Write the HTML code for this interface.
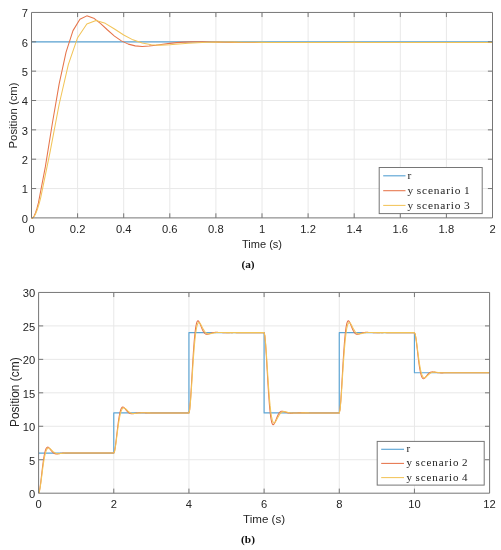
<!DOCTYPE html>
<html><head><meta charset="utf-8"><title>Position response plots</title>
<style>
html,body{margin:0;padding:0;background:#fff;}
body{width:501px;height:550px;overflow:hidden;}
svg{display:block;font-family:"Liberation Sans",Arial,sans-serif;}
.t{stroke:#262626;stroke-width:0.0px;}
.s{stroke:#1a1a1a;stroke-width:0.0px;}
</style></head><body>
<svg width="501" height="550" viewBox="0 0 501 550">
<rect width="501" height="550" fill="#fff"/>
<path d="M77.60 217.90V12.45M123.70 217.90V12.45M169.80 217.90V12.45M215.90 217.90V12.45M262.00 217.90V12.45M308.10 217.90V12.45M354.20 217.90V12.45M400.30 217.90V12.45M446.40 217.90V12.45M31.50 188.55H492.50M31.50 159.20H492.50M31.50 129.85H492.50M31.50 100.50H492.50M31.50 71.15H492.50M31.50 41.80H492.50" stroke="#e8e8e8" stroke-width="1" fill="none"/>
<polyline points="31.50,41.80 492.50,41.80" stroke="#5ca5d5" stroke-width="1.15" fill="none" stroke-linejoin="round"/>
<polyline points="31.50,218.50 32.88,217.79 34.27,215.74 35.65,212.49 37.03,208.17 38.41,202.92 45.33,166.89 52.25,124.01 59.16,83.88 66.07,52.06 72.99,30.62 79.91,19.19 86.82,15.86 93.74,18.14 100.65,23.54 107.56,30.00 114.48,36.06 121.39,40.88 128.31,44.13 135.22,45.88 142.14,46.40 149.06,46.07 155.97,45.26 162.89,44.29 169.80,43.37 176.72,42.64 183.63,42.14 190.54,41.88 197.46,41.80 204.38,41.85 211.29,41.97 218.21,42.11 225.12,42.25 232.03,42.36 238.95,42.44 245.86,42.48 252.78,42.49 259.69,42.48 266.61,42.47" stroke="#e6744a" stroke-width="1.05" fill="none" stroke-linejoin="round"/>
<polyline points="31.50,218.50 33.34,217.51 35.19,214.69 37.03,210.28 38.88,204.52 40.72,197.61 49.94,152.68 59.16,104.25 68.38,64.33 77.60,37.69 86.82,24.08 96.04,20.57 105.26,23.34 114.48,28.97 123.70,34.96 132.92,39.85 142.14,43.08 151.36,44.71 160.58,45.11 169.80,44.74 179.02,44.03 188.24,43.29 197.46,42.70 206.68,42.30 215.90,42.11 225.12,42.06 234.34,42.11 243.56,42.20 252.78,42.29 262.00,42.37 271.22,42.41 280.44,42.44 289.66,42.44 298.88,42.44 308.10,42.42 317.32,42.41 326.54,42.40 335.76,42.40 344.98,42.40 354.20,42.39 363.42,42.40 372.64,42.40 381.86,42.40 391.08,42.40 400.30,42.40 409.52,42.40 418.74,42.40 427.96,42.40 437.18,42.40 446.40,42.40 455.62,42.40 464.84,42.40 474.06,42.40 483.28,42.40 492.50,42.40" stroke="#f2c458" stroke-width="1.05" fill="none" stroke-linejoin="round"/>
<path d="M31.50 12.45H492.50V217.90H31.50ZM77.60 217.90v-4.6M77.60 12.45v4.6M123.70 217.90v-4.6M123.70 12.45v4.6M169.80 217.90v-4.6M169.80 12.45v4.6M215.90 217.90v-4.6M215.90 12.45v4.6M262.00 217.90v-4.6M262.00 12.45v4.6M308.10 217.90v-4.6M308.10 12.45v4.6M354.20 217.90v-4.6M354.20 12.45v4.6M400.30 217.90v-4.6M400.30 12.45v4.6M446.40 217.90v-4.6M446.40 12.45v4.6M31.50 188.55h4.6M492.50 188.55h-4.6M31.50 159.20h4.6M492.50 159.20h-4.6M31.50 129.85h4.6M492.50 129.85h-4.6M31.50 100.50h4.6M492.50 100.50h-4.6M31.50 71.15h4.6M492.50 71.15h-4.6M31.50 41.80h4.6M492.50 41.80h-4.6" stroke="#767676" stroke-width="1" fill="none"/>
<g class="t" font-size="11.2" fill="#262626"><text x="31.50" y="233.20" text-anchor="middle">0</text><text x="77.60" y="233.20" text-anchor="middle">0.2</text><text x="123.70" y="233.20" text-anchor="middle">0.4</text><text x="169.80" y="233.20" text-anchor="middle">0.6</text><text x="215.90" y="233.20" text-anchor="middle">0.8</text><text x="262.00" y="233.20" text-anchor="middle">1</text><text x="308.10" y="233.20" text-anchor="middle">1.2</text><text x="354.20" y="233.20" text-anchor="middle">1.4</text><text x="400.30" y="233.20" text-anchor="middle">1.6</text><text x="446.40" y="233.20" text-anchor="middle">1.8</text><text x="492.50" y="233.20" text-anchor="middle">2</text><text x="28.10" y="222.70" text-anchor="end">0</text><text x="28.10" y="193.35" text-anchor="end">1</text><text x="28.10" y="164.00" text-anchor="end">2</text><text x="28.10" y="134.65" text-anchor="end">3</text><text x="28.10" y="105.30" text-anchor="end">4</text><text x="28.10" y="75.95" text-anchor="end">5</text><text x="28.10" y="46.60" text-anchor="end">6</text><text x="28.10" y="17.25" text-anchor="end">7</text></g>
<text x="262.00" y="247.8" text-anchor="middle" class="t" font-size="11.05" fill="#262626">Time (s)</text>
<text transform="translate(17.0 115.47) rotate(-90)" text-anchor="middle" class="t" font-size="11.3" fill="#262626">Position (cm)</text>
<rect x="379.2" y="167.5" width="103.0" height="46.099999999999994" fill="#fff" stroke="#767676" stroke-width="1"/>
<path d="M383.2 175.8H405.5" stroke="#5ca5d5" stroke-width="1.15"/>
<text x="407.6" y="179.20" font-family="Liberation Serif, serif" class="s" font-size="11.4" word-spacing="-0.9" letter-spacing="0.8" fill="#1a1a1a">r</text>
<path d="M383.2 190.7H405.5" stroke="#e6744a" stroke-width="1.05"/>
<text x="407.6" y="194.10" font-family="Liberation Serif, serif" class="s" font-size="11.4" word-spacing="-0.9" letter-spacing="0.8" fill="#1a1a1a">y scenario 1</text>
<path d="M383.2 205.4H405.5" stroke="#f2c458" stroke-width="1.05"/>
<text x="407.6" y="208.80" font-family="Liberation Serif, serif" class="s" font-size="11.4" word-spacing="-0.9" letter-spacing="0.8" fill="#1a1a1a">y scenario 3</text>
<text x="248" y="268" text-anchor="middle" font-family="Liberation Serif, serif" font-weight="bold" font-size="11.3" fill="#111">(a)</text>
<path d="M113.77 493.20V292.45M188.93 493.20V292.45M264.10 493.20V292.45M339.27 493.20V292.45M414.43 493.20V292.45M38.60 459.74H489.60M38.60 426.28H489.60M38.60 392.82H489.60M38.60 359.37H489.60M38.60 325.91H489.60" stroke="#e8e8e8" stroke-width="1" fill="none"/>
<polyline points="38.60,453.05 113.77,453.05 113.77,412.90 188.93,412.90 188.93,332.60 264.10,332.60 264.10,412.90 339.27,412.90 339.27,332.60 414.43,332.60 414.43,372.75 489.60,372.75" stroke="#5ca5d5" stroke-width="1.15" fill="none" stroke-linejoin="round"/>
<polyline points="38.60,493.20 39.35,491.52 40.10,487.23 40.86,481.40 41.61,474.89 42.36,468.43 43.11,462.50 43.86,457.43 44.61,453.40 45.37,450.44 46.12,448.49 46.87,447.44 47.62,447.12 48.37,447.36 49.12,447.99 49.88,448.85 50.63,449.80 51.38,450.76 52.13,451.64 52.88,452.39 53.63,452.99 54.38,453.43 55.14,453.72 55.89,453.88 56.64,453.93 57.39,453.89 58.14,453.80 58.90,453.67 59.65,453.53 60.40,453.39 61.15,453.26 61.90,453.15 62.65,453.06 63.41,453.00 64.16,452.95 64.91,452.93 65.66,452.92 66.41,452.93 67.16,452.94 67.92,452.96 68.67,452.98 69.42,453.00 70.17,453.02 70.92,453.04 71.67,453.05 72.42,453.06 73.18,453.06 73.93,453.07 74.68,453.07 75.43,453.07 76.18,453.07 76.94,453.06 77.69,453.06 78.44,453.06 79.19,453.05 79.94,453.05 80.69,453.05 81.45,453.05 82.20,453.05 82.95,453.05 83.70,453.05 84.45,453.05 85.20,453.05 85.95,453.05 86.71,453.05 87.46,453.05 88.21,453.05 88.96,453.05 89.71,453.05 90.47,453.05 91.22,453.05 91.97,453.05 92.72,453.05 93.47,453.05 94.22,453.05 94.97,453.05 95.73,453.05 96.48,453.05 97.23,453.05 97.98,453.05 98.73,453.05 99.49,453.05 100.24,453.05 100.99,453.05 101.74,453.05 102.49,453.05 103.24,453.05 104.00,453.05 104.75,453.05 105.50,453.05 106.25,453.05 107.00,453.05 107.75,453.05 108.50,453.05 109.26,453.05 110.01,453.05 110.76,453.05 111.51,453.05 112.26,453.05 113.02,453.05 113.77,453.05 114.52,451.37 115.27,447.08 116.02,441.25 116.77,434.74 117.53,428.28 118.28,422.35 119.03,417.28 119.78,413.25 120.53,410.29 121.28,408.34 122.04,407.29 122.79,406.97 123.54,407.21 124.29,407.84 125.04,408.70 125.79,409.65 126.54,410.61 127.30,411.49 128.05,412.24 128.80,412.84 129.55,413.28 130.30,413.57 131.06,413.73 131.81,413.78 132.56,413.74 133.31,413.65 134.06,413.52 134.81,413.38 135.56,413.24 136.32,413.11 137.07,413.00 137.82,412.91 138.57,412.85 139.32,412.80 140.08,412.78 140.83,412.77 141.58,412.78 142.33,412.79 143.08,412.81 143.83,412.83 144.59,412.85 145.34,412.87 146.09,412.89 146.84,412.90 147.59,412.91 148.34,412.91 149.09,412.92 149.85,412.92 150.60,412.92 151.35,412.92 152.10,412.91 152.85,412.91 153.60,412.91 154.36,412.90 155.11,412.90 155.86,412.90 156.61,412.90 157.36,412.90 158.12,412.90 158.87,412.90 159.62,412.90 160.37,412.90 161.12,412.90 161.87,412.90 162.62,412.90 163.38,412.90 164.13,412.90 164.88,412.90 165.63,412.90 166.38,412.90 167.13,412.90 167.89,412.90 168.64,412.90 169.39,412.90 170.14,412.90 170.89,412.90 171.64,412.90 172.40,412.90 173.15,412.90 173.90,412.90 174.65,412.90 175.40,412.90 176.16,412.90 176.91,412.90 177.66,412.90 178.41,412.90 179.16,412.90 179.91,412.90 180.66,412.90 181.42,412.90 182.17,412.90 182.92,412.90 183.67,412.90 184.42,412.90 185.18,412.90 185.93,412.90 186.68,412.90 187.43,412.90 188.18,412.90 188.93,412.90 189.69,409.54 190.44,400.97 191.19,389.29 191.94,376.29 192.69,363.35 193.44,351.50 194.19,341.37 194.95,333.30 195.70,327.38 196.45,323.49 197.20,321.38 197.95,320.74 198.70,321.22 199.46,322.47 200.21,324.19 200.96,326.11 201.71,328.02 202.46,329.78 203.22,331.28 203.97,332.48 204.72,333.36 205.47,333.94 206.22,334.25 206.97,334.35 207.72,334.28 208.48,334.10 209.23,333.85 209.98,333.56 210.73,333.28 211.48,333.02 212.23,332.80 212.99,332.62 213.74,332.49 214.49,332.40 215.24,332.36 215.99,332.34 216.75,332.35 217.50,332.38 218.25,332.41 219.00,332.46 219.75,332.50 220.50,332.54 221.25,332.57 222.01,332.60 222.76,332.62 223.51,332.63 224.26,332.64 225.01,332.64 225.77,332.64 226.52,332.63 227.27,332.63 228.02,332.62 228.77,332.62 229.52,332.61 230.28,332.60 231.03,332.60 231.78,332.60 232.53,332.60 233.28,332.59 234.03,332.59 234.78,332.59 235.54,332.60 236.29,332.60 237.04,332.60 237.79,332.60 238.54,332.60 239.29,332.60 240.05,332.60 240.80,332.60 241.55,332.60 242.30,332.60 243.05,332.60 243.81,332.60 244.56,332.60 245.31,332.60 246.06,332.60 246.81,332.60 247.56,332.60 248.31,332.60 249.07,332.60 249.82,332.60 250.57,332.60 251.32,332.60 252.07,332.60 252.83,332.60 253.58,332.60 254.33,332.60 255.08,332.60 255.83,332.60 256.58,332.60 257.34,332.60 258.09,332.60 258.84,332.60 259.59,332.60 260.34,332.60 261.09,332.60 261.85,332.60 262.60,332.60 263.35,332.60 264.10,332.60 264.85,335.96 265.60,344.53 266.36,356.21 267.11,369.21 267.86,382.15 268.61,394.00 269.36,404.13 270.11,412.20 270.87,418.12 271.62,422.01 272.37,424.12 273.12,424.76 273.87,424.28 274.62,423.03 275.38,421.31 276.13,419.39 276.88,417.48 277.63,415.72 278.38,414.22 279.13,413.02 279.89,412.14 280.64,411.56 281.39,411.25 282.14,411.15 282.89,411.22 283.64,411.40 284.40,411.65 285.15,411.94 285.90,412.22 286.65,412.48 287.40,412.70 288.15,412.88 288.91,413.01 289.66,413.10 290.41,413.14 291.16,413.16 291.91,413.15 292.66,413.12 293.42,413.09 294.17,413.04 294.92,413.00 295.67,412.96 296.42,412.93 297.17,412.90 297.93,412.88 298.68,412.87 299.43,412.86 300.18,412.86 300.93,412.86 301.68,412.87 302.44,412.87 303.19,412.88 303.94,412.88 304.69,412.89 305.44,412.90 306.19,412.90 306.95,412.90 307.70,412.90 308.45,412.91 309.20,412.91 309.95,412.91 310.70,412.90 311.46,412.90 312.21,412.90 312.96,412.90 313.71,412.90 314.46,412.90 315.21,412.90 315.97,412.90 316.72,412.90 317.47,412.90 318.22,412.90 318.97,412.90 319.72,412.90 320.48,412.90 321.23,412.90 321.98,412.90 322.73,412.90 323.48,412.90 324.23,412.90 324.99,412.90 325.74,412.90 326.49,412.90 327.24,412.90 327.99,412.90 328.74,412.90 329.50,412.90 330.25,412.90 331.00,412.90 331.75,412.90 332.50,412.90 333.25,412.90 334.01,412.90 334.76,412.90 335.51,412.90 336.26,412.90 337.01,412.90 337.76,412.90 338.52,412.90 339.27,412.90 340.02,409.54 340.77,400.97 341.52,389.29 342.27,376.29 343.02,363.35 343.78,351.50 344.53,341.37 345.28,333.30 346.03,327.38 346.78,323.49 347.54,321.38 348.29,320.74 349.04,321.22 349.79,322.47 350.54,324.19 351.29,326.11 352.05,328.02 352.80,329.78 353.55,331.28 354.30,332.48 355.05,333.36 355.80,333.94 356.56,334.25 357.31,334.35 358.06,334.28 358.81,334.10 359.56,333.85 360.31,333.56 361.06,333.28 361.82,333.02 362.57,332.80 363.32,332.62 364.07,332.49 364.82,332.40 365.58,332.36 366.33,332.34 367.08,332.35 367.83,332.38 368.58,332.41 369.33,332.46 370.09,332.50 370.84,332.54 371.59,332.57 372.34,332.60 373.09,332.62 373.84,332.63 374.60,332.64 375.35,332.64 376.10,332.64 376.85,332.63 377.60,332.63 378.35,332.62 379.11,332.62 379.86,332.61 380.61,332.60 381.36,332.60 382.11,332.60 382.86,332.60 383.62,332.59 384.37,332.59 385.12,332.59 385.87,332.60 386.62,332.60 387.37,332.60 388.13,332.60 388.88,332.60 389.63,332.60 390.38,332.60 391.13,332.60 391.88,332.60 392.64,332.60 393.39,332.60 394.14,332.60 394.89,332.60 395.64,332.60 396.39,332.60 397.15,332.60 397.90,332.60 398.65,332.60 399.40,332.60 400.15,332.60 400.90,332.60 401.66,332.60 402.41,332.60 403.16,332.60 403.91,332.60 404.66,332.60 405.41,332.60 406.17,332.60 406.92,332.60 407.67,332.60 408.42,332.60 409.17,332.60 409.92,332.60 410.68,332.60 411.43,332.60 412.18,332.60 412.93,332.60 413.68,332.60 414.43,332.60 415.19,334.28 415.94,338.57 416.69,344.40 417.44,350.91 418.19,357.37 418.94,363.30 419.70,368.37 420.45,372.40 421.20,375.36 421.95,377.31 422.70,378.36 423.45,378.68 424.21,378.44 424.96,377.81 425.71,376.95 426.46,376.00 427.21,375.04 427.96,374.16 428.72,373.41 429.47,372.81 430.22,372.37 430.97,372.08 431.72,371.92 432.47,371.87 433.23,371.91 433.98,372.00 434.73,372.13 435.48,372.27 436.23,372.41 436.98,372.54 437.74,372.65 438.49,372.74 439.24,372.80 439.99,372.85 440.74,372.87 441.49,372.88 442.25,372.87 443.00,372.86 443.75,372.84 444.50,372.82 445.25,372.80 446.00,372.78 446.75,372.76 447.51,372.75 448.26,372.74 449.01,372.74 449.76,372.73 450.51,372.73 451.27,372.73 452.02,372.73 452.77,372.74 453.52,372.74 454.27,372.74 455.02,372.75 455.77,372.75 456.53,372.75 457.28,372.75 458.03,372.75 458.78,372.75 459.53,372.75 460.29,372.75 461.04,372.75 461.79,372.75 462.54,372.75 463.29,372.75 464.04,372.75 464.80,372.75 465.55,372.75 466.30,372.75 467.05,372.75 467.80,372.75 468.55,372.75 469.31,372.75 470.06,372.75 470.81,372.75 471.56,372.75 472.31,372.75 473.06,372.75 473.81,372.75 474.57,372.75 475.32,372.75 476.07,372.75 476.82,372.75 477.57,372.75 478.33,372.75 479.08,372.75 479.83,372.75 480.58,372.75 481.33,372.75 482.08,372.75 482.84,372.75 483.59,372.75 484.34,372.75 485.09,372.75 485.84,372.75 486.59,372.75 487.35,372.75 488.10,372.75 488.85,372.75 489.60,372.75" stroke="#e6744a" stroke-width="1.05" fill="none" stroke-linejoin="round"/>
<polyline points="38.60,493.20 39.35,491.75 40.10,488.02 40.86,482.89 41.61,477.08 42.36,471.18 43.11,465.62 43.86,460.68 44.61,456.55 45.37,453.28 46.12,450.88 46.87,449.27 47.62,448.35 48.37,448.00 49.12,448.10 49.88,448.51 50.63,449.12 51.38,449.84 52.13,450.58 52.88,451.30 53.63,451.94 54.38,452.49 55.14,452.93 55.89,453.26 56.64,453.48 57.39,453.62 58.14,453.68 58.90,453.68 59.65,453.64 60.40,453.57 61.15,453.48 61.90,453.38 62.65,453.29 63.41,453.21 64.16,453.14 64.91,453.08 65.66,453.03 66.41,453.00 67.16,452.98 67.92,452.97 68.67,452.97 69.42,452.97 70.17,452.98 70.92,452.99 71.67,453.00 72.42,453.02 73.18,453.03 73.93,453.04 74.68,453.04 75.43,453.05 76.18,453.06 76.94,453.06 77.69,453.06 78.44,453.06 79.19,453.06 79.94,453.06 80.69,453.06 81.45,453.06 82.20,453.05 82.95,453.05 83.70,453.05 84.45,453.05 85.20,453.05 85.95,453.05 86.71,453.05 87.46,453.05 88.21,453.05 88.96,453.05 89.71,453.05 90.47,453.05 91.22,453.05 91.97,453.05 92.72,453.05 93.47,453.05 94.22,453.05 94.97,453.05 95.73,453.05 96.48,453.05 97.23,453.05 97.98,453.05 98.73,453.05 99.49,453.05 100.24,453.05 100.99,453.05 101.74,453.05 102.49,453.05 103.24,453.05 104.00,453.05 104.75,453.05 105.50,453.05 106.25,453.05 107.00,453.05 107.75,453.05 108.50,453.05 109.26,453.05 110.01,453.05 110.76,453.05 111.51,453.05 112.26,453.05 113.02,453.05 113.77,453.05 114.52,451.60 115.27,447.87 116.02,442.74 116.77,436.93 117.53,431.03 118.28,425.47 119.03,420.53 119.78,416.40 120.53,413.13 121.28,410.73 122.04,409.12 122.79,408.20 123.54,407.85 124.29,407.95 125.04,408.36 125.79,408.97 126.54,409.69 127.30,410.43 128.05,411.15 128.80,411.79 129.55,412.34 130.30,412.78 131.06,413.11 131.81,413.33 132.56,413.47 133.31,413.53 134.06,413.53 134.81,413.49 135.56,413.42 136.32,413.33 137.07,413.23 137.82,413.14 138.57,413.06 139.32,412.99 140.08,412.93 140.83,412.88 141.58,412.85 142.33,412.83 143.08,412.82 143.83,412.82 144.59,412.82 145.34,412.83 146.09,412.84 146.84,412.85 147.59,412.87 148.34,412.88 149.09,412.89 149.85,412.89 150.60,412.90 151.35,412.91 152.10,412.91 152.85,412.91 153.60,412.91 154.36,412.91 155.11,412.91 155.86,412.91 156.61,412.91 157.36,412.90 158.12,412.90 158.87,412.90 159.62,412.90 160.37,412.90 161.12,412.90 161.87,412.90 162.62,412.90 163.38,412.90 164.13,412.90 164.88,412.90 165.63,412.90 166.38,412.90 167.13,412.90 167.89,412.90 168.64,412.90 169.39,412.90 170.14,412.90 170.89,412.90 171.64,412.90 172.40,412.90 173.15,412.90 173.90,412.90 174.65,412.90 175.40,412.90 176.16,412.90 176.91,412.90 177.66,412.90 178.41,412.90 179.16,412.90 179.91,412.90 180.66,412.90 181.42,412.90 182.17,412.90 182.92,412.90 183.67,412.90 184.42,412.90 185.18,412.90 185.93,412.90 186.68,412.90 187.43,412.90 188.18,412.90 188.93,412.90 189.69,409.99 190.44,402.54 191.19,392.28 191.94,380.67 192.69,368.87 193.44,357.74 194.19,347.87 194.95,339.60 195.70,333.07 196.45,328.26 197.20,325.04 197.95,323.21 198.70,322.51 199.46,322.70 200.21,323.51 200.96,324.73 201.71,326.17 202.46,327.66 203.22,329.09 203.97,330.38 204.72,331.48 205.47,332.36 206.22,333.01 206.97,333.47 207.72,333.74 208.48,333.86 209.23,333.86 209.98,333.78 210.73,333.63 211.48,333.46 212.23,333.27 212.99,333.09 213.74,332.92 214.49,332.77 215.24,332.66 215.99,332.57 216.75,332.50 217.50,332.46 218.25,332.44 219.00,332.44 219.75,332.45 220.50,332.46 221.25,332.49 222.01,332.51 222.76,332.53 223.51,332.55 224.26,332.57 225.01,332.59 225.77,332.60 226.52,332.61 227.27,332.62 228.02,332.62 228.77,332.62 229.52,332.62 230.28,332.62 231.03,332.62 231.78,332.61 232.53,332.61 233.28,332.61 234.03,332.60 234.78,332.60 235.54,332.60 236.29,332.60 237.04,332.60 237.79,332.60 238.54,332.60 239.29,332.60 240.05,332.60 240.80,332.60 241.55,332.60 242.30,332.60 243.05,332.60 243.81,332.60 244.56,332.60 245.31,332.60 246.06,332.60 246.81,332.60 247.56,332.60 248.31,332.60 249.07,332.60 249.82,332.60 250.57,332.60 251.32,332.60 252.07,332.60 252.83,332.60 253.58,332.60 254.33,332.60 255.08,332.60 255.83,332.60 256.58,332.60 257.34,332.60 258.09,332.60 258.84,332.60 259.59,332.60 260.34,332.60 261.09,332.60 261.85,332.60 262.60,332.60 263.35,332.60 264.10,332.60 264.85,335.51 265.60,342.96 266.36,353.22 267.11,364.83 267.86,376.63 268.61,387.76 269.36,397.63 270.11,405.90 270.87,412.43 271.62,417.24 272.37,420.46 273.12,422.29 273.87,422.99 274.62,422.80 275.38,421.99 276.13,420.77 276.88,419.33 277.63,417.84 278.38,416.41 279.13,415.12 279.89,414.02 280.64,413.14 281.39,412.49 282.14,412.03 282.89,411.76 283.64,411.64 284.40,411.64 285.15,411.72 285.90,411.87 286.65,412.04 287.40,412.23 288.15,412.41 288.91,412.58 289.66,412.73 290.41,412.84 291.16,412.93 291.91,413.00 292.66,413.04 293.42,413.06 294.17,413.06 294.92,413.05 295.67,413.04 296.42,413.01 297.17,412.99 297.93,412.97 298.68,412.95 299.43,412.93 300.18,412.91 300.93,412.90 301.68,412.89 302.44,412.88 303.19,412.88 303.94,412.88 304.69,412.88 305.44,412.88 306.19,412.88 306.95,412.89 307.70,412.89 308.45,412.89 309.20,412.90 309.95,412.90 310.70,412.90 311.46,412.90 312.21,412.90 312.96,412.90 313.71,412.90 314.46,412.90 315.21,412.90 315.97,412.90 316.72,412.90 317.47,412.90 318.22,412.90 318.97,412.90 319.72,412.90 320.48,412.90 321.23,412.90 321.98,412.90 322.73,412.90 323.48,412.90 324.23,412.90 324.99,412.90 325.74,412.90 326.49,412.90 327.24,412.90 327.99,412.90 328.74,412.90 329.50,412.90 330.25,412.90 331.00,412.90 331.75,412.90 332.50,412.90 333.25,412.90 334.01,412.90 334.76,412.90 335.51,412.90 336.26,412.90 337.01,412.90 337.76,412.90 338.52,412.90 339.27,412.90 340.02,409.99 340.77,402.54 341.52,392.28 342.27,380.67 343.02,368.87 343.78,357.74 344.53,347.87 345.28,339.60 346.03,333.07 346.78,328.26 347.54,325.04 348.29,323.21 349.04,322.51 349.79,322.70 350.54,323.51 351.29,324.73 352.05,326.17 352.80,327.66 353.55,329.09 354.30,330.38 355.05,331.48 355.80,332.36 356.56,333.01 357.31,333.47 358.06,333.74 358.81,333.86 359.56,333.86 360.31,333.78 361.06,333.63 361.82,333.46 362.57,333.27 363.32,333.09 364.07,332.92 364.82,332.77 365.58,332.66 366.33,332.57 367.08,332.50 367.83,332.46 368.58,332.44 369.33,332.44 370.09,332.45 370.84,332.46 371.59,332.49 372.34,332.51 373.09,332.53 373.84,332.55 374.60,332.57 375.35,332.59 376.10,332.60 376.85,332.61 377.60,332.62 378.35,332.62 379.11,332.62 379.86,332.62 380.61,332.62 381.36,332.62 382.11,332.61 382.86,332.61 383.62,332.61 384.37,332.60 385.12,332.60 385.87,332.60 386.62,332.60 387.37,332.60 388.13,332.60 388.88,332.60 389.63,332.60 390.38,332.60 391.13,332.60 391.88,332.60 392.64,332.60 393.39,332.60 394.14,332.60 394.89,332.60 395.64,332.60 396.39,332.60 397.15,332.60 397.90,332.60 398.65,332.60 399.40,332.60 400.15,332.60 400.90,332.60 401.66,332.60 402.41,332.60 403.16,332.60 403.91,332.60 404.66,332.60 405.41,332.60 406.17,332.60 406.92,332.60 407.67,332.60 408.42,332.60 409.17,332.60 409.92,332.60 410.68,332.60 411.43,332.60 412.18,332.60 412.93,332.60 413.68,332.60 414.43,332.60 415.19,334.05 415.94,337.78 416.69,342.91 417.44,348.72 418.19,354.62 418.94,360.18 419.70,365.12 420.45,369.25 421.20,372.52 421.95,374.92 422.70,376.53 423.45,377.45 424.21,377.80 424.96,377.70 425.71,377.29 426.46,376.68 427.21,375.96 427.96,375.22 428.72,374.50 429.47,373.86 430.22,373.31 430.97,372.87 431.72,372.54 432.47,372.32 433.23,372.18 433.98,372.12 434.73,372.12 435.48,372.16 436.23,372.23 436.98,372.32 437.74,372.42 438.49,372.51 439.24,372.59 439.99,372.66 440.74,372.72 441.49,372.77 442.25,372.80 443.00,372.82 443.75,372.83 444.50,372.83 445.25,372.83 446.00,372.82 446.75,372.81 447.51,372.80 448.26,372.78 449.01,372.77 449.76,372.76 450.51,372.76 451.27,372.75 452.02,372.74 452.77,372.74 453.52,372.74 454.27,372.74 455.02,372.74 455.77,372.74 456.53,372.74 457.28,372.74 458.03,372.75 458.78,372.75 459.53,372.75 460.29,372.75 461.04,372.75 461.79,372.75 462.54,372.75 463.29,372.75 464.04,372.75 464.80,372.75 465.55,372.75 466.30,372.75 467.05,372.75 467.80,372.75 468.55,372.75 469.31,372.75 470.06,372.75 470.81,372.75 471.56,372.75 472.31,372.75 473.06,372.75 473.81,372.75 474.57,372.75 475.32,372.75 476.07,372.75 476.82,372.75 477.57,372.75 478.33,372.75 479.08,372.75 479.83,372.75 480.58,372.75 481.33,372.75 482.08,372.75 482.84,372.75 483.59,372.75 484.34,372.75 485.09,372.75 485.84,372.75 486.59,372.75 487.35,372.75 488.10,372.75 488.85,372.75 489.60,372.75" stroke="#f2c458" stroke-width="1.05" fill="none" stroke-linejoin="round"/>
<path d="M38.60 292.45H489.60V493.20H38.60ZM113.77 493.20v-4.6M113.77 292.45v4.6M188.93 493.20v-4.6M188.93 292.45v4.6M264.10 493.20v-4.6M264.10 292.45v4.6M339.27 493.20v-4.6M339.27 292.45v4.6M414.43 493.20v-4.6M414.43 292.45v4.6M38.60 459.74h4.6M489.60 459.74h-4.6M38.60 426.28h4.6M489.60 426.28h-4.6M38.60 392.82h4.6M489.60 392.82h-4.6M38.60 359.37h4.6M489.60 359.37h-4.6M38.60 325.91h4.6M489.60 325.91h-4.6" stroke="#767676" stroke-width="1" fill="none"/>
<g class="t" font-size="11.2" fill="#262626"><text x="38.60" y="508.10" text-anchor="middle">0</text><text x="113.77" y="508.10" text-anchor="middle">2</text><text x="188.93" y="508.10" text-anchor="middle">4</text><text x="264.10" y="508.10" text-anchor="middle">6</text><text x="339.27" y="508.10" text-anchor="middle">8</text><text x="414.43" y="508.10" text-anchor="middle">10</text><text x="489.60" y="508.10" text-anchor="middle">12</text><text x="35.20" y="498.00" text-anchor="end">0</text><text x="35.20" y="464.54" text-anchor="end">5</text><text x="35.20" y="431.08" text-anchor="end">10</text><text x="35.20" y="397.62" text-anchor="end">15</text><text x="35.20" y="364.17" text-anchor="end">20</text><text x="35.20" y="330.71" text-anchor="end">25</text><text x="35.20" y="297.25" text-anchor="end">30</text></g>
<text x="264.10" y="523.1" text-anchor="middle" class="t" font-size="11.6" fill="#262626">Time (s)</text>
<text transform="translate(18.6 392.2) rotate(-90)" text-anchor="middle" class="t" font-size="11.95" fill="#262626">Position (cm)</text>
<rect x="377.2" y="441.4" width="107.0" height="43.700000000000045" fill="#fff" stroke="#767676" stroke-width="1"/>
<path d="M381.2 449.3H404" stroke="#5ca5d5" stroke-width="1.15"/>
<text x="406.6" y="452.30" font-family="Liberation Serif, serif" class="s" font-size="11.0" word-spacing="-1.0" letter-spacing="0.88" fill="#1a1a1a">r</text>
<path d="M381.2 463.4H404" stroke="#e6744a" stroke-width="1.05"/>
<text x="406.6" y="466.40" font-family="Liberation Serif, serif" class="s" font-size="11.0" word-spacing="-1.0" letter-spacing="0.88" fill="#1a1a1a">y scenario 2</text>
<path d="M381.2 477.6H404" stroke="#f2c458" stroke-width="1.05"/>
<text x="406.6" y="480.60" font-family="Liberation Serif, serif" class="s" font-size="11.0" word-spacing="-1.0" letter-spacing="0.88" fill="#1a1a1a">y scenario 4</text>
<text x="248" y="543" text-anchor="middle" font-family="Liberation Serif, serif" font-weight="bold" font-size="11.3" fill="#111">(b)</text>
</svg>
</body></html>
